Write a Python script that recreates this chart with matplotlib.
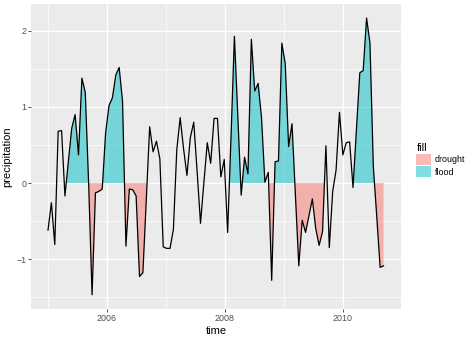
import numpy as np
import pandas as pd
import matplotlib
matplotlib.use("Agg")
import matplotlib.pyplot as plt
from matplotlib.patches import Patch

plt.rcParams['font.family'] = ['Liberation Sans', 'DejaVu Sans']

# one reading every 3 weeks from Jan 2005
dates = pd.date_range("2005-01-01", periods=100, freq="21D")
time = 2005 + (dates - pd.Timestamp("2005-01-01")).days / 365.25

precipitation = np.array([
    -0.62, -0.26, -0.81, 0.68, 0.69, -0.17, 0.28, 0.72, 0.90, 0.37,
    1.38, 1.19, -0.02, -1.47, -0.13, -0.11, -0.08, 0.66, 1.02, 1.12,
    1.42, 1.52, 1.07, -0.83, -0.08, -0.09, -0.17, -1.23, -1.18, -0.22,
    0.74, 0.41, 0.55, 0.32, -0.84, -0.86, -0.86, -0.61, 0.44, 0.86,
    0.45, 0.10, 0.60, 0.80, 0.15, -0.53, 0.01, 0.53, 0.26, 0.85,
    0.85, 0.08, 0.31, -0.65, 0.60, 1.93, 0.89, -0.16, 0.34, 0.12,
    1.89, 1.21, 1.31, 0.86, 0.01, 0.14, -1.28, 0.28, 0.29, 1.84,
    1.57, 0.48, 0.78, -0.16, -1.09, -0.49, -0.65, -0.43, -0.21, -0.60,
    -0.82, -0.64, 0.49, -0.85, -0.11, 0.17, 0.93, 0.37, 0.53, 0.54,
    -0.06, 0.70, 1.45, 1.48, 2.17, 1.84, 0.21, -0.44, -1.11, -1.09,
])

# index ranges (inclusive) of readings that belong to each fill class
flood_spans = [(6, 11), (17, 22), (54, 64), (67, 72), (91, 96)]
drought_spans = [(12, 16), (23, 29), (66, 66), (73, 81), (97, 99)]

fill_labels = ["drought", "flood"]
fill_colors = ["#F8766D", "#00BFC4"]

n = len(precipitation)
is_flood = np.zeros(n, bool)
is_drought = np.zeros(n, bool)
for a, b in flood_spans:
    is_flood[a:b + 1] = True
for a, b in drought_spans:
    is_drought[a:b + 1] = True

# add the zero crossings so the shaded areas stop exactly on the line
td, yd, fd, dd = [], [], [], []
for i in range(n):
    td.append(time[i]); yd.append(precipitation[i])
    fd.append(is_flood[i]); dd.append(is_drought[i])
    if i < n - 1 and precipitation[i] * precipitation[i + 1] < 0:
        y0, y1 = precipitation[i], precipitation[i + 1]
        tc = time[i] + (time[i + 1] - time[i]) * y0 / (y0 - y1)
        td.append(tc); yd.append(0.0)
        fd.append(is_flood[i] or is_flood[i + 1])
        dd.append(is_drought[i] or is_drought[i + 1])
td, yd = np.array(td), np.array(yd)

fig = plt.figure(figsize=(4.74, 3.38), dpi=100)
ax = fig.add_axes([31.5 / 474, 1 - 308.6 / 338, 369 / 474, 304.4 / 338])
ax.set_facecolor("#EBEBEB")

ax.fill_between(td, 0, np.minimum(yd, 0), where=dd, color=fill_colors[0],
                alpha=0.5, linewidth=0, zorder=2)
ax.fill_between(td, 0, np.maximum(yd, 0), where=fd, color=fill_colors[1],
                alpha=0.5, linewidth=0, zorder=2)
ax.plot(time, precipitation, color="black", linewidth=0.9, zorder=3)

ax.set_xlim(2004.72, 2010.98)
ax.set_ylim(-1.652, 2.352)
ax.set_xticks([2006, 2008, 2010])
ax.set_xticklabels(["2006", "2008", "2010"])
ax.set_xticks([2005, 2007, 2009], minor=True)
ax.set_yticks([-1, 0, 1, 2])
ax.set_yticks([-1.5, -0.5, 0.5, 1.5], minor=True)

ax.grid(which="major", color="white", linewidth=1.0, zorder=1)
ax.grid(which="minor", color="white", linewidth=0.5, zorder=1)
ax.set_axisbelow(True)
for s in ax.spines.values():
    s.set_visible(False)
ax.tick_params(which="major", length=2.2, width=0.6, color="#333333",
               labelsize=6.4, labelcolor="#4D4D4D", pad=1.5)
ax.tick_params(which="minor", length=0)

ax.set_xlabel("time", fontsize=8, labelpad=2)
ax.set_ylabel("precipitation", fontsize=8, labelpad=3)

handles = [Patch(facecolor=c, alpha=0.5, linewidth=0) for c in fill_colors]
leg = fig.legend(handles, fill_labels, title="fill", loc="center left",
                 bbox_to_anchor=(412 / 474, 1 - 160 / 338), frameon=False,
                 fontsize=6.4, title_fontsize=8, handlelength=1.6,
                 handleheight=1.6, labelspacing=0.1, handletextpad=0.5,
                 borderpad=0, alignment="left")

fig.savefig("out.png", dpi=100)
